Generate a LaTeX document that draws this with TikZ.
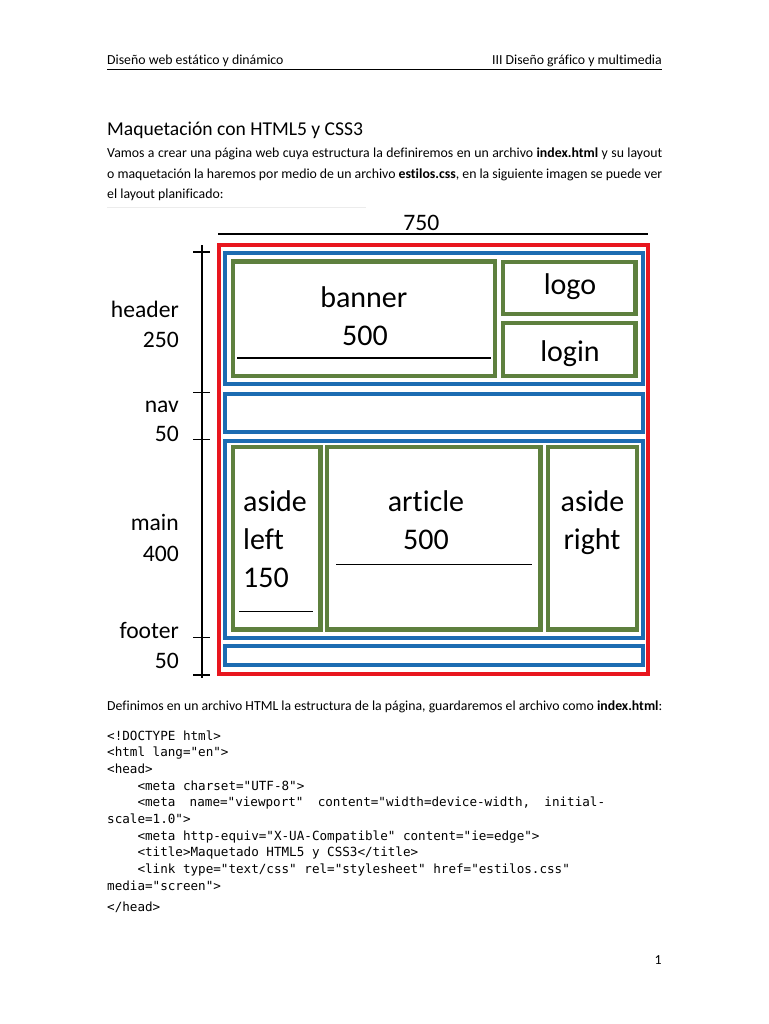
\documentclass[tikz,border=0pt]{standalone}
\usepackage{fontspec}
\setmainfont{Carlito}[Ligatures={TeX,CommonOff}]
\setmonofont{DejaVu Sans Mono}
\usepackage{tikz}

\definecolor{boxred}{RGB}{232,22,30}
\definecolor{boxblue}{RGB}{28,108,178}
\definecolor{boxgreen}{RGB}{94,128,62}

\newcommand{\jline}[1]{\hbox to 555pt{#1}}
\newcommand{\ind}{\hphantom{xxxx}}

\begin{document}
\begin{tikzpicture}[
    x=1pt, y=-1pt,
    every node/.style={inner sep=0pt},
    txt/.style={anchor=base west, font=\fontsize{13.8}{16}\selectfont},
    code/.style={anchor=base west, font=\ttfamily\fontsize{12.6}{16}\selectfont},
    big/.style={anchor=base, font=\fontsize{30}{36}\selectfont},
    side/.style={anchor=base east, font=\fontsize{23.6}{28}\selectfont},
    redbox/.style={draw=boxred, line width=4.3pt},
    bluebox/.style={draw=boxblue, line width=4pt},
    greenbox/.style={draw=boxgreen, line width=4.3pt},
    thinline/.style={line width=1.4pt}
]
\fill[white] (0,0) rectangle (768,1024);
\useasboundingbox (0,0) rectangle (768,1024);

% page header
\node[txt] (headleft) at (107,65) {Diseño web estático y dinámico};
\node[txt, anchor=base east] (headright) at (662,65) {III Diseño gráfico y multimedia};
\draw[line width=1pt] (headleft.base west |- 0,70) -- (headright.base east |- 0,70);

% title and text
\node[txt, font=\fontsize{19.6}{24}\selectfont] (title) at (107,135.7) {Maquetación con HTML5 y CSS3};
\node[txt] (par1) at (107,157.7) {\jline{Vamos a crear una página web cuya estructura la definiremos en un archivo \textbf{index.html} y su layout}};
\node[txt] (par2) at (107,178.2) {\jline{o maquetación la haremos por medio de un archivo \textbf{estilos.css}, en la siguiente imagen se puede ver}};
\node[txt] (par3) at (107,198.7) {el layout planificado:};
\draw[gray!15, line width=1pt] (107,208) -- (366,208);

% layout boxes
\draw[redbox] (218.7,244.7) rectangle (648.3,674);
\draw[bluebox] (225,253) rectangle (642.5,384);
\draw[bluebox] (225,393.7) rectangle (642.5,432);
\draw[bluebox] (225,441) rectangle (642.5,637.5);
\draw[bluebox] (225,646) rectangle (642.5,665);
\draw[greenbox] (233,261.5) rectangle (495,376);
\draw[greenbox] (503,262) rectangle (635.5,314);
\draw[greenbox] (503,323) rectangle (635.5,376);
\draw[greenbox] (233,447) rectangle (320.5,629.5);
\draw[greenbox] (327,447) rectangle (540.5,629.5);
\draw[greenbox] (548,447) rectangle (637,629.5);

% width on top
\coordinate (wl) at (218,234);
\coordinate (wr) at (648,234);
\draw[thinline] (wl) -- (wr);
\node[anchor=base, font=\fontsize{23.6}{28}\selectfont] (width) at (421.4,231) {750};

% height axis
\coordinate (axtop) at (201.7,245);
\coordinate (axbot) at (201.7,678);
\draw[line width=1.8pt] (axtop) -- (axbot);
\foreach \ty in {251.7,392.3,439.3,637.3,675}
    \draw[line width=1.6pt] (193,\ty) -- (210,\ty);

\node[side] (hdr) at (179,317.3) {header};
\node[side] (hdrh) at (179,347.7) {250};
\node[side] (nav) at (179,412.3) {nav};
\node[side] (navh) at (179,441.7) {50};
\node[side] (main) at (179,530.7) {main};
\node[side] (mainh) at (179,561.7) {400};
\node[side] (foot) at (179,638.3) {footer};
\node[side] (footh) at (179,668.3) {50};

% box labels
\node[big] (banner) at (363.8,307.3) {banner};
\node[big] (bannerw) at (365,345.7) {500};
\node[big] (logo) at (570,294.3) {logo};
\node[big] (login) at (570,361) {login};
\node[big, anchor=base west] (asideL) at (243,511) {aside};
\node[big, anchor=base west] (asideLb) at (243,549.3) {left};
\node[big, anchor=base west] (asideLw) at (243,587.3) {150};
\node[big] (article) at (426,511) {article};
\node[big] (articlew) at (426,549) {500};
\node[big] (asideR) at (592.5,511) {aside};
\node[big] (asideRb) at (592,549) {right};
\draw[thinline] (237,358) -- (491,358);
\draw[thinline] (336,564.3) -- (532.3,564.3);
\draw[thinline] (239,611.7) -- (312.7,611.7);

% text below
\node[txt] (par4) at (107,710.7) {\resizebox{555pt}{\height}{Definimos en un archivo HTML la estructura de la página, guardaremos el archivo como \textbf{index.html}:}};

% html code
\node[code] (c1) at (107,740) {<!DOCTYPE html>};
\node[code] (c2) at (107,756.7) {<html lang="en">};
\node[code] (c3) at (107,773.3) {<head>};
\node[code] (c4) at (107,790) {\ind<meta charset="UTF-8">};
\node[code] (c5) at (107,806.7) {\hbox to 498pt{\ind<meta \hfill name="viewport" \hfill content="width=device-width, \hfill initial-}};
\node[code] (c6) at (107,823.3) {scale=1.0">};
\node[code] (c7) at (107,840) {\ind<meta http-equiv="X-UA-Compatible" content="ie=edge">};
\node[code] (c8) at (107,856.7) {\ind<title>Maquetado HTML5 y CSS3</title>};
\node[code] (c9) at (107,873.3) {\ind<link type="text/css" rel="stylesheet" href="estilos.css"};
\node[code] (c10) at (107,890) {media="screen">};
\node[code] (c11) at (107,911.7) {</head>};

% page number
\node[anchor=base, font=\fontsize{13.8}{16}\selectfont] (pagenum) at (658,964.5) {1};

\end{tikzpicture}
\end{document}
